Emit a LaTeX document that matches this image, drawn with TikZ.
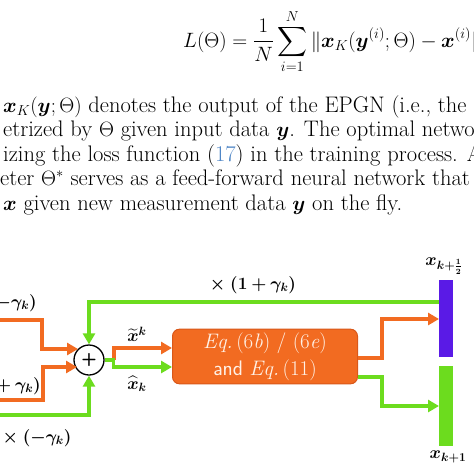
\documentclass[tikz,border=0pt]{standalone}
\usepackage{amsmath}
\usepackage{bm}
\usetikzlibrary{arrows.meta,calc}
\definecolor{ora}{HTML}{F26B21}
\definecolor{grn}{HTML}{6CDC1E}
\definecolor{pur}{HTML}{5A1AE6}
\definecolor{oraedge}{HTML}{D9581A}
\definecolor{cream}{HTML}{FFF1E6}
\definecolor{linkblue}{HTML}{4F86C6}
\tikzset{
  txt/.style={anchor=base west, inner sep=0pt, font=\fontsize{22.5}{25}\selectfont},
  oline/.style={draw=ora, line width=3.8pt, -{Triangle[length=11pt,width=12pt]}},
  gline/.style={draw=grn, line width=3.4pt, -{Triangle[length=11pt,width=12pt]}},
  lab/.style={inner sep=1pt, font=\fontsize{17}{20}\selectfont},
  eqbox/.style={rectangle, rounded corners=7pt, fill=ora, draw=oraedge, line width=1pt,
    minimum width=185pt, minimum height=54pt, text=cream, align=center,
    font=\fontsize{21}{27}\selectfont},
  bar/.style={anchor=north west, inner sep=0pt, minimum width=14pt},
  sumnode/.style={circle, draw=black, line width=1.3pt, minimum size=30pt, inner sep=0pt,
    font=\sffamily\bfseries\fontsize{18}{18}\selectfont}
}
\begin{document}
\begin{tikzpicture}[x=1pt,y=-1pt]
\useasboundingbox (0,0) rectangle (474,474);
\fill[white] (0,0) rectangle (474,474);
% text
\node[txt, font=\fontsize{22}{25}\selectfont] (eqn) at (183,47) {$\displaystyle L(\Theta)=\frac{1}{N}\sum_{i=1}^{N}\|\bm{x}_K(\bm{y}^{(i)};\Theta)-\bm{x}^{(i)}\|_2^2$};
\node[txt] (t1) at (3,112) {$\bm{x}_K(\bm{y};\Theta)$ denotes the output of the EPGN (i.e., the};
\node[txt] (t2) at (3,136.5) {etrized by $\Theta$ given input data $\bm{y}$. The optimal network};
\node[txt] (t3) at (3,161) {izing the loss function (\textcolor{linkblue}{17}) in the training process. After};
\node[txt] (t4) at (0,185.5) {eter $\Theta^*$ serves as a feed-forward neural network that};
\node[txt] (t5) at (3,210) {$\bm{x}$ given new measurement data $\bm{y}$ on the fly.};
% diagram nodes
\node[sumnode] (sum) at (89,360) {+};
\node[eqbox] (eq) at (265,356.5) {\textit{Eq.}\,(6\textit{b}) {\sffamily /} (6\textit{e})\\{\sffamily and} \textit{Eq.}\,(11)};
\node[bar, fill=pur, minimum height=77pt] (b1) at (439,280) {};
\node[bar, fill=grn, minimum height=80pt] (b2) at (439,366) {};
% free ends
\coordinate (in1) at (-5,320);
\coordinate (in2) at (-5,400);
\coordinate (in3) at (-5,415);
% inputs
\draw[oline] (in1) -- (42,320) -- (42,349) -- ($(sum)+(-11,-11)$);
\draw[oline] (in2) -- (43,400) -- (43,367) -- ($(sum)+(-12,7)$);
\draw[gline] (in3) -| (sum.south);
\draw[gline] ($(b1.north west)+(0,22)$) -| (sum.north);
% split to box
\draw[oline] ($(sum.east)+(9,0)$) |- ($(eq.west)+(0,-8.5)$);
\draw[gline] (sum.east) -- ++(9,0) |- ($(eq.west)+(0,10.5)$);
% box outputs
\draw[oline] ($(eq.east)+(0,1.5)$) -- (382,358) |- ($(b1.north west)+(0,39)$);
\draw[gline] ($(eq.east)+(0,20.5)$) -- (382,377) |- ($(b2.north west)+(0,40)$);
% labels
\node[lab] (l1) at (253,285) {$\bm{\times\;(1+\gamma_k)}$};
\node[lab, anchor=east] (l2) at (38,303) {$\bm{\times\;(-\gamma_k)}$};
\node[lab, anchor=east] (l3) at (42,386) {$\bm{\times\;(1+\gamma_k)}$};
\node[lab] (l4) at (37,438) {$\bm{\times\;(-\gamma_k)}$};
\node[lab] (l5) at (137,334) {$\bm{\widetilde{x}}^{\bm{k}}$};
\node[lab] (l6) at (137,384) {$\bm{\widehat{x}}_{\bm{k}}$};
\node[lab] (l7) at (444,266) {$\bm{x}_{\bm{k+\frac{1}{2}}}$};
\node[lab] (l8) at (448,457) {$\bm{x}_{\bm{k+1}}$};
\end{tikzpicture}
\end{document}
